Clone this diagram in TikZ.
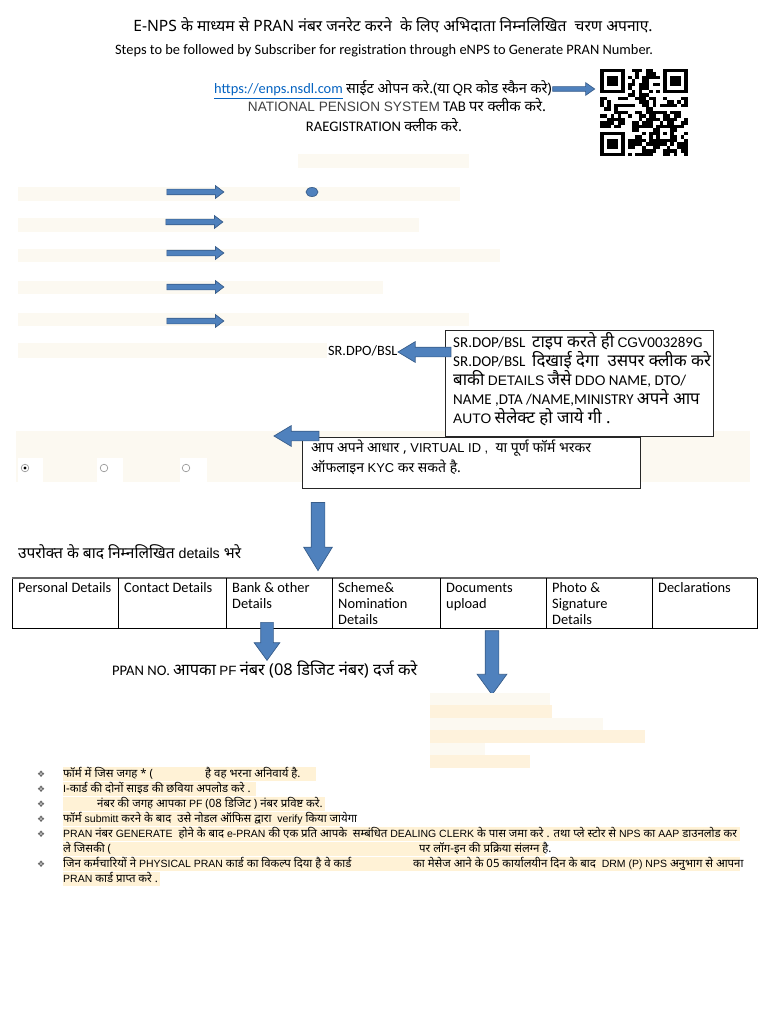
\documentclass[tikz,border=0pt]{standalone}
\usepackage{fontspec}
\setmainfont{Carlito}
\newfontfamily\dev[Script=Devanagari]{Noto Sans}
\newfontfamily\devl[Script=Devanagari,Scale=1.12]{Noto Sans}
\newfontfamily\ari[Scale=0.92]{Liberation Sans}
\newfontfamily\symf{DejaVu Sans}
\usetikzlibrary{shapes.arrows,shapes.geometric}
\definecolor{arrowblue}{RGB}{79,129,189}
\definecolor{arrowedge}{RGB}{56,93,138}
\definecolor{barlight}{RGB}{252,249,241}
\definecolor{barwarm}{RGB}{254,242,220}
\definecolor{hilite}{RGB}{255,242,214}
\definecolor{linkblue}{RGB}{5,99,193}
\tikzset{
  txt/.style={inner sep=0pt, anchor=base west},
  ctxt/.style={inner sep=0pt, anchor=base},
  blockarr/.style={single arrow, draw=arrowedge, fill=arrowblue, line width=0.7pt,
    inner xsep=0pt, text height=0pt, text depth=0pt, single arrow head indent=0pt},
  downarrow/.style={blockarr, inner ysep=0pt, shape border rotate=270},
  rowarr/.style={blockarr, minimum height=57pt, inner ysep=2.5pt,
    single arrow head extend=3.5pt, single arrow tip angle=74},
  infobox/.style={draw=black!85, line width=0.8pt, fill=white},
  cell/.style={inner sep=0pt, anchor=north west, align=left, font={\fontsize{14.4}{16}\selectfont}},
  bullet/.style={inner sep=0pt, anchor=base west, font={\symf\fontsize{9}{10}\selectfont}, text=black!60},
  listtxt/.style={txt, font={\dev\fontsize{11.4}{12}\selectfont}},
}
\begin{document}
\begin{tikzpicture}[x=1pt,y=-1pt]
  \useasboundingbox (0,0) rectangle (768,1024);
  % 标题
  \node[ctxt, font={\dev\fontsize{15.6}{17}\selectfont}] (title) at (393,32)
    {E-NPS के माध्यम से PRAN नंबर जनरेट करने\ \ के लिए अभिदाता निम्नलिखित\ \ चरण अपनाए.};
  \node[ctxt, font={\fontsize{14.4}{16}\selectfont}] (subtitle) at (384,55)
    {Steps to be followed by Subscriber for registration through eNPS to Generate PRAN Number.};
  % 网址与二维码
  \node[txt, font={\fontsize{14.4}{16}\selectfont}] (url) at (214,94)
    {{\color{linkblue}\underline{https://enps.nsdl.com}} {\dev साईट ओपन करे.(या} {\ari QR} {\dev कोड स्कैन करे)}};
  \node[blockarr, minimum height=42pt, inner ysep=2pt, single arrow head extend=4pt,
    single arrow tip angle=70] (urlarr) at (572,89) {};
  \pgfmathsetseed{17}
  \foreach \i in {0,...,24}{
    \foreach \j in {0,...,24}{
      \pgfmathtruncatemacro\qbit{(rnd<0.56)&&!(((\i<8)&&(\j<8))||((\i>16)&&(\j<8))||((\i<8)&&(\j>16))||((\i>15)&&(\i<21)&&(\j>15)&&(\j<21)))}
      \ifnum\qbit=1 \fill (600+3.5*\i,69+3.5*\j) rectangle ++(3.5,3.5);\fi
    }
  }
  \foreach \qx/\qy in {0/0,18/0,0/18}{
    \fill (600+3.5*\qx,69+3.5*\qy) rectangle ++(24.5,24.5);
    \fill[white] (603.5+3.5*\qx,72.5+3.5*\qy) rectangle ++(17.5,17.5);
    \fill (607+3.5*\qx,76+3.5*\qy) rectangle ++(10.5,10.5);
  }
  \fill (656,125) rectangle ++(17.5,17.5);
  \fill[white] (659.5,128.5) rectangle ++(10.5,10.5);
  \fill (663,132) rectangle ++(3.5,3.5);
  \node[ctxt, font={\fontsize{14.8}{16}\selectfont}] (tabline) at (397,112)
    {{\ari\color{black!75}NATIONAL PENSION SYSTEM} TAB {\dev पर क्लीक करे.}};
  \node[ctxt, font={\fontsize{14.6}{16}\selectfont}] (regline) at (384,132)
    {RAEGISTRATION {\dev क्लीक करे.}};
  % 表单行（浅色条）
  \fill[barlight] (298,154) rectangle (469,168);
  \fill[barlight] (18,187) rectangle (460,201);
  \fill[barlight] (18,218) rectangle (419,232);
  \fill[barlight] (18,249) rectangle (500,262);
  \fill[barlight] (18,281) rectangle (383,294);
  \fill[barlight] (18,313) rectangle (469,326);
  \fill[barlight] (18,343) rectangle (327,358);
  \node[rowarr] (arr1) at (193.5,192) {};
  \node[rowarr] (arr2) at (192.5,222) {};
  \node[rowarr] (arr3) at (193.5,253) {};
  \node[rowarr] (arr4) at (193.5,287) {};
  \node[rowarr] (arr5) at (193.5,321) {};
  \node[ellipse, draw=arrowedge, fill=arrowblue, line width=0.7pt, inner sep=0pt,
    minimum width=12pt, minimum height=9pt] (dot) at (312,192) {};
  \node[txt, font={\fontsize{14.2}{16}\selectfont}] (dpo) at (328,355) {SR.DPO/BSL};
  % KYC 选项底色
  \fill[barlight] (16,431) rectangle (750,482);
  \fill[white] (18,458) rectangle (43,482);
  \fill[white] (97,458) rectangle (123,482);
  \fill[white] (180,458) rectangle (207,482);
  \draw[black!45, line width=0.6pt] (25,468) circle (3.8);
  \fill (25,468) circle (1.6);
  \draw[black!45, line width=0.6pt] (104,468) circle (3.8);
  \draw[black!45, line width=0.6pt] (186,468) circle (3.8);
  % 说明框一
  \node[infobox, minimum width=268pt, minimum height=106pt, anchor=north west] (box1) at (445,330) {};
  \node[txt, font={\fontsize{15}{16}\selectfont}] (b1l1) at (453,347)
    {SR.DOP/BSL\ \ {\devl टाइप करते ही} {\ari CGV}003289G};
  \node[txt, font={\fontsize{15}{16}\selectfont}] (b1l2) at (453,366)
    {SR.DOP/BSL\ \ {\devl दिखाई देगा\ \ उसपर क्लीक करे}};
  \node[txt, font={\fontsize{15}{16}\selectfont}] (b1l3) at (453,385)
    {{\devl बाकी} {\ari DETAILS} {\devl जैसे} {\ari DDO} NAME, DTO/};
  \node[txt, font={\fontsize{15}{16}\selectfont}] (b1l4) at (453,404)
    {NAME ,DTA /NAME,MINISTRY {\devl अपने आप}};
  \node[txt, font={\fontsize{15}{16}\selectfont}] (b1l5) at (453,423)
    {{\ari AUTO} {\devl सेलेक्ट हो जाये गी .}};
  \node[blockarr, minimum height=53pt, inner ysep=4.5pt, single arrow head extend=5.5pt,
    single arrow tip angle=62, shape border rotate=180] (dpoarr) at (428.5,352) {};
  % 说明框二
  \node[infobox, minimum width=338pt, minimum height=51pt, anchor=north west] (box2) at (302,437) {};
  \node[txt, font={\dev\fontsize{14}{16}\selectfont}] (b2l1) at (311,452)
    {आप अपने आधार , {\ari VIRTUAL ID ,}\ \ या पूर्ण फॉर्म भरकर};
  \node[txt, font={\dev\fontsize{14}{16}\selectfont}] (b2l2) at (311,472)
    {ऑफलाइन {\ari KYC} कर सकते है.};
  \node[blockarr, minimum height=45pt, inner ysep=4.5pt, single arrow head extend=5.5pt,
    single arrow tip angle=62, shape border rotate=180] (kycarr) at (300.5,436) {};
  % 下箭头与表格
  \node[downarrow, minimum height=68pt, inner xsep=6.5pt, single arrow head extend=7.5pt,
    single arrow tip angle=63] (downarr) at (318,531) {};
  \node[txt, font={\dev\fontsize{15.5}{17}\selectfont}] (after) at (18,558)
    {उपरोक्त के बाद निम्नलिखित {\ari details} भरे};
  \draw[line width=0.8pt] (12,578) rectangle (757,628);
  \draw[black!60, line width=1.6pt] (12,578) -- (757,578);
  \foreach \cx in {118,226,332,440,546,652}
    \draw[line width=0.8pt] (\cx,578) -- (\cx,628);
  \foreach \cx/\ctext [count=\k] in {18/{Personal Details}, 124/{Contact Details},
      232/{Bank \& other\\Details}, 338/{Scheme\&\\Nomination\\Details},
      446/{Documents\\upload}, 552/{Photo \&\\Signature\\Details}, 658/{Declarations}}
    \node[cell] (cell\k) at (\cx,580.8) {\strut\ctext};
  \node[downarrow, minimum height=38pt, inner xsep=6pt, single arrow head extend=6.5pt,
    single arrow tip angle=72] (bankarr) at (267,637) {};
  \node[txt, font={\fontsize{14.6}{16}\selectfont}] (ppan) at (112,675)
    {PPAN NO. {\devl आपका} {\ari PF} {\devl नंबर (08 डिजिट नंबर) दर्ज करे}};
  \node[downarrow, minimum height=64pt, inner xsep=6.5pt, single arrow head extend=8pt,
    single arrow tip angle=72] (docarr) at (492,658) {};
  % 上传区
  \fill[barlight] (430,693) rectangle (550,705);
  \fill[barwarm] (430,705) rectangle (552,718);
  \fill[barlight] (430,718) rectangle (603,730);
  \fill[barwarm] (430,730) rectangle (645,743);
  \fill[barlight] (430,743) rectangle (485,755);
  \fill[barwarm] (430,755) rectangle (530,768);
  % 注意事项
  \fill[hilite] (63,767) rectangle (316,781);
  \fill[hilite] (63,782) rectangle (256,796);
  \fill[hilite] (63,797) rectangle (325,811);
  \fill[hilite] (63,812) rectangle (340,826);
  \fill[hilite] (63,827) rectangle (740,841);
  \fill[hilite] (63,842) rectangle (545,856);
  \fill[hilite] (63,857) rectangle (740,871);
  \fill[hilite] (63,872) rectangle (160,886);
  \foreach \by in {777,792,807,822,837,867}
    \node[bullet] at (37,\by) {❖};
  \node[listtxt] (n1a) at (63,777) {फॉर्म में जिस जगह * (};
  \node[listtxt] (n1b) at (205,777) {है वह भरना अनिवार्य है.};
  \node[listtxt] (n2) at (63,792) {{\ari I}-कार्ड की दोनों साइड की छविया अपलोड करे .};
  \node[listtxt] (n3) at (97,807) {नंबर की जगह आपका {\ari PF} (08 डिजिट ) नंबर प्रविष्ट करे.};
  \node[listtxt] (n4) at (63,822) {फॉर्म {\ari submitt} करने के बाद\ \ उसे नोडल ऑफिस द्वारा\ \ {\ari verify} किया जायेगा};
  \node[listtxt] (n5) at (63,837) {{\ari PRAN} नंबर {\ari GENERATE}\ \ होने के बाद {\ari e-PRAN} की एक प्रति आपके\ \ सम्बंधित {\ari DEALING CLERK} के पास जमा करे . तथा प्ले स्टोर से {\ari NPS} का {\ari AAP} डाउनलोड कर};
  \node[listtxt] (n5a) at (63,852) {ले जिसकी (};
  \node[listtxt] (n5b) at (419,852) {पर लॉग-इन की प्रक्रिया संलग्न है.};
  \node[listtxt] (n6a) at (63,867) {जिन कर्मचारियों ने {\ari PHYSICAL PRAN} कार्ड का विकल्प दिया है वे कार्ड};
  \node[listtxt] (n6b) at (413,867) {का मेसेज आने के 05 कार्यालयीन दिन के बाद\ \ {\ari DRM (P) NPS} अनुभाग से आपना};
  \node[listtxt] (n6c) at (63,882) {{\ari PRAN} कार्ड प्राप्त करे .};
\end{tikzpicture}
\end{document}
